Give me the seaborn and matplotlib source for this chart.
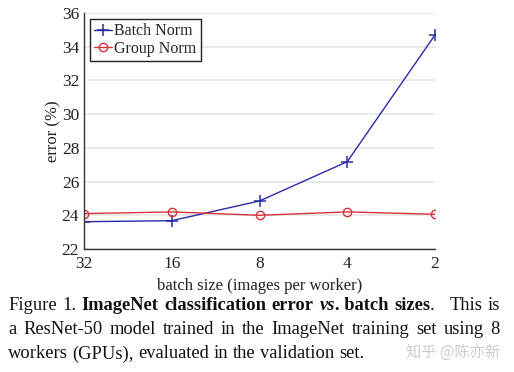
import matplotlib
matplotlib.use("Agg")
import matplotlib.pyplot as plt
import seaborn as sns
import pandas as pd

batch_sizes = ["32", "16", "8", "4", "2"]
batch_norm = [23.62, 23.68, 24.85, 27.18, 34.7]
group_norm = [24.1, 24.2, 24.0, 24.2, 24.06]
series_names = ["Batch Norm", "Group Norm"]
y_ticks = [22, 24, 26, 28, 30, 32, 34, 36]

sns.set_theme(style="white")
plt.rcParams['font.family'] = ['Liberation Serif', 'DejaVu Serif']

df_bn = pd.DataFrame({"batch": batch_sizes, "error": batch_norm})
df_gn = pd.DataFrame({"batch": batch_sizes, "error": group_norm})

fig = plt.figure(figsize=(5.14, 3.72), dpi=100)
ax = fig.add_axes([84/514, 1-249/372, (435-84)/514, (249-13)/372])

blue = "#2a2aa8"
red = "#d8323c"
sns.lineplot(data=df_bn, x="batch", y="error", color=blue, marker="+",
             sort=False, ax=ax, linewidth=1.0, markersize=9, mew=1.1,
             mec=blue, label=series_names[0])
sns.lineplot(data=df_gn, x="batch", y="error", color=red, marker="o",
             sort=False, ax=ax, linewidth=1.0, markersize=6, mfc="none",
             mec=red, mew=1.0, label=series_names[1])

ax.set_xlim(0, 4)
ax.set_ylim(22, 36)
ax.set_yticks(y_ticks)
ax.set_yticklabels([str(v) for v in y_ticks])
ax.set_xticks(range(5))
ax.set_xticklabels(batch_sizes)
ax.yaxis.grid(True, color="#e6e6e6", linewidth=1.2)
ax.xaxis.grid(False)
for s in ["top", "right"]:
    ax.spines[s].set_visible(False)
for s in ["left", "bottom"]:
    ax.spines[s].set_color("#333333")
    ax.spines[s].set_linewidth(1.0)
ax.tick_params(axis="both", direction="in", length=4, width=0.8, colors="#333333",
               labelsize=12.5, labelcolor="#222222")
ax.tick_params(axis="x", pad=5)
ax.set_xlabel("batch size (images per worker)", fontsize=12, color="#222222", labelpad=4)
ax.set_ylabel("error (%)", fontsize=12, color="#222222", labelpad=0)

leg = ax.legend(loc="upper left", fontsize=11.5, frameon=True, fancybox=False,
                edgecolor="#222222", handlelength=1.1, handletextpad=0.15,
                borderpad=0.25, labelspacing=0.1, borderaxespad=0.4)
leg.get_frame().set_linewidth(1.0)
leg.get_frame().set_facecolor("white")
leg.get_frame().set_alpha(1)

# Caption
fig.canvas.draw()
renderer = fig.canvas.get_renderer()
cap_fs = 13.3
styles = {
    "n": dict(fontweight="normal", fontstyle="normal"),
    "b": dict(fontweight="bold", fontstyle="normal"),
    "bi": dict(fontweight="bold", fontstyle="italic"),
}
lines = [
    ([("Figure", "n"), ("1.", "n"), ("ImageNet", "b"), ("classification", "b"),
      ("error", "b"), ("vs", "bi"), (". batch", "b"), ("sizes", "b"), (".", "n"), ("This", "n"), ("is", "n")], "sentence"),
    ([("a", "n"), ("ResNet-50", "n"), ("model", "n"), ("trained", "n"), ("in", "n"),
      ("the", "n"), ("ImageNet", "n"), ("training", "n"), ("set", "n"), ("using", "n"), ("8", "n")], "justify"),
    ([("workers", "n"), ("(GPUs),", "n"), ("evaluated", "n"), ("in", "n"), ("the", "n"),
      ("validation", "n"), ("set.", "n")], "left"),
]
tmp1 = fig.text(0, 0, "a a", fontsize=cap_fs)
tmp2 = fig.text(0, 0, "aa", fontsize=cap_fs)
space = tmp1.get_window_extent(renderer).width - tmp2.get_window_extent(renderer).width
tmp1.remove()
tmp2.remove()

x0, x1 = 8, 500
ys = [306, 330, 354]
for (words, mode), ypix in zip(lines, ys):
    texts = []
    widths = []
    for w, st in words:
        t = fig.text(0, 0, w, fontsize=cap_fs, color="#111111", **styles[st])
        bb = t.get_window_extent(renderer)
        texts.append(t)
        widths.append(bb.width)
    nospace_after = set()
    for i, (w, st) in enumerate(words[:-1]):
        if st == "bi" or words[i+1][0] == ".":
            nospace_after.add(i)
    gap_idx = [i for i in range(len(words) - 1) if i not in nospace_after]
    total = sum(widths)
    gaps = {i: space for i in gap_idx}
    if mode == "justify":
        g = (x1 - x0 - total) / len(gap_idx)
        gaps = {i: g for i in gap_idx}
    elif mode == "sentence":
        sent = [i for i in gap_idx if words[i][0] == "."][0]
        wide = space * 1.2
        gaps = {i: wide for i in gap_idx}
        gaps[sent] = (x1 - x0 - total) - wide * (len(gap_idx) - 1)
    x = x0
    for i, t in enumerate(texts):
        t.set_position((x / 514, 1 - ypix / 372))
        t.set_va("center")
        x += widths[i] + gaps.get(i, 0)

fig.text(500/514, 1 - 352/372, "知乎 @陈亦新", fontsize=11, color="#cccccc",
         ha="right", va="center", family=["Noto Sans CJK SC", "DejaVu Sans"])

fig.savefig("out.png", dpi=100)
